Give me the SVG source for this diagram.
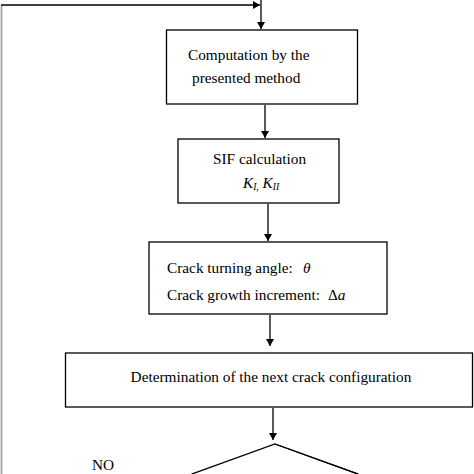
<svg xmlns="http://www.w3.org/2000/svg" width="474" height="474" viewBox="0 0 474 474">
<style>
.box{fill:#fff;stroke:#000;stroke-width:1.3}
.t{font-family:"Liberation Serif","Times New Roman",serif;font-size:15.3px;fill:#000}
.i{font-style:italic}
.c{stroke:#000;stroke-width:1.3;fill:none}
</style>
<defs>
<marker id="ah" viewBox="0 0 10 10" refX="10" refY="5" markerWidth="7" markerHeight="8" markerUnits="userSpaceOnUse" orient="auto" preserveAspectRatio="none">
<path d="M0,0 L10,5 L0,10 Z" fill="#000"/>
</marker>
</defs>
<rect width="474" height="474" fill="#fff"/>
<g id="connectors">
<line x1="1.5" y1="5" x2="1.5" y2="480" stroke="#aaa" stroke-width="2"/>
<line class="c" x1="1" y1="5" x2="260" y2="5" stroke="#333" marker-end="url(#ah)"/>
<line class="c" x1="261" y1="0" x2="261" y2="29" marker-end="url(#ah)"/>
<line class="c" x1="265" y1="105" x2="265" y2="138" marker-end="url(#ah)"/>
<line class="c" x1="268" y1="204" x2="268" y2="241" marker-end="url(#ah)"/>
<line class="c" x1="270" y1="315" x2="270" y2="346" marker-end="url(#ah)"/>
<line class="c" x1="273" y1="408" x2="273" y2="440" marker-end="url(#ah)"/>
</g>
<g id="n1">
<rect class="box" x="166.5" y="30" width="191" height="74"/>
<text class="t" x="188" y="60">Computation by the</text>
<text class="t" x="192" y="83">presented method</text>
</g>
<g id="n2">
<rect class="box" x="178" y="139" width="161" height="64"/>
<text class="t" x="213" y="164">SIF calculation</text>
<text class="t i" x="243" y="188">K<tspan font-size="9.5" dy="2">I,</tspan><tspan dy="-2"> K</tspan><tspan font-size="9.5" dy="2">II</tspan></text>
</g>
<g id="n3">
<rect class="box" x="149" y="242" width="238" height="72"/>
<text class="t" x="167" y="273">Crack turning angle:</text>
<text class="t i" x="303" y="273" font-size="17">θ</text>
<text class="t" x="167" y="300">Crack growth increment:</text>
<text class="t" x="328" y="300" font-size="17">Δ<tspan class="i">a</tspan></text>
</g>
<g id="n4">
<rect class="box" x="65.5" y="353" width="407" height="54"/>
<text class="t" x="271" y="382" text-anchor="middle">Determination of the next crack configuration</text>
</g>
<g id="n5">
<polygon class="box" points="275,444 358,474 358,480 192,480 192,474"/>
<line class="c" x1="275" y1="444" x2="358" y2="474"/>
<text class="t" x="92" y="470">NO</text>
</g>
</svg>
